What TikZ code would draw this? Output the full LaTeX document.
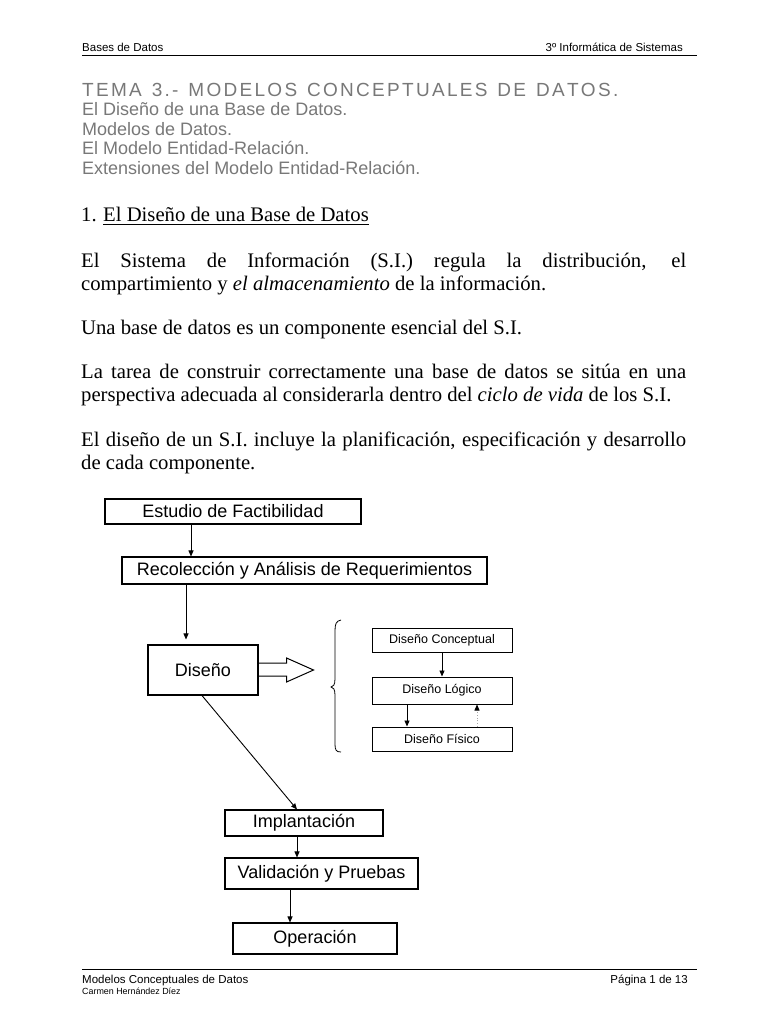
\documentclass[tikz,border=0pt]{standalone}
\usepackage{fontspec}
\setmainfont{Liberation Serif}
\newfontfamily\arial{Liberation Sans}
\usetikzlibrary{arrows.meta,calc}
\definecolor{tgray}{gray}{0.47}
\makeatletter
\def\trk#1{\trk@#1\relax}
\def\trk@#1{\ifx#1\relax\else#1\kern\trkamt\expandafter\trk@\fi}
\makeatother
\def\trkamt{2.3pt}
\tikzset{
  box/.style={draw, line width=1.1pt, inner sep=0pt, font=\arial\fontsize{18}{20}\selectfont},
  sbox/.style={draw, line width=1pt, inner sep=0pt, minimum width=140pt, font=\arial\fontsize{12.5}{14}\selectfont},
  arr/.style={-{Triangle[length=6pt,width=5pt]}, line width=0.9pt},
  body/.style={anchor=base west, inner sep=0pt, font=\fontsize{20.7}{23}\selectfont},
  sub/.style={anchor=base west, inner sep=0pt, text=tgray, font=\arial\fontsize{18}{20}\selectfont},
  hdr/.style={inner sep=0pt, font=\arial\fontsize{11.5}{13}\selectfont},
}
\begin{document}
\begin{tikzpicture}[x=1pt,y=-1pt]
\useasboundingbox[fill=white] (0,0) rectangle (768,1024);
% header
\node[hdr, anchor=base west] (h1) at (82,52) {Bases de Datos};
\node[hdr, anchor=base east] (h2) at (683,52) {3º Informática de Sistemas};
\draw[line width=1.2pt] (82,55.5) -- (697,55.5);
% title
\node[anchor=base west, inner sep=0pt, text=tgray, font=\arial\fontsize{19}{21}\selectfont] (tit) at (82,96.5) {\trk{TEMA~3.-~MODELOS~CONCEPTUALES~DE~DATOS.}};
\node[sub] (s1) at (82,115.5) {El Diseño de una Base de Datos.};
\node[sub] (s2) at (82,135.2) {Modelos de Datos.};
\node[sub] (s3) at (82,154.9) {El Modelo Entidad-Relación.};
\node[sub] (s4) at (82,174.6) {Extensiones del Modelo Entidad-Relación.};
% body
\node[body] (n1) at (81,222) {1.};
\node[body] (hd) at (103,222) {El Diseño de una Base de Datos};
\draw[line width=0.9pt] ($(hd.base west)+(0,2.5)$) -- ($(hd.base east)+(0,2.5)$);
\node[body] (p1a) at (81,267.5) {\makebox[605pt][s]{El Sistema de Información (S.I.) regula la distribución, el}};
\node[body] (p1b) at (81,290.5) {compartimiento y \textit{el almacenamiento} de la información.};
\node[body] (p2) at (81,334.5) {Una base de datos es un componente esencial del S.I.};
\node[body] (p3a) at (81,378.5) {\makebox[605pt][s]{La tarea de construir correctamente una base de datos se sitúa en una}};
\node[body] (p3b) at (81,401.5) {perspectiva adecuada al considerarla dentro del \textit{ciclo de vida} de los S.I.};
\node[body] (p4a) at (81,446.5) {\makebox[605pt][s]{El diseño de un S.I. incluye la planificación, especificación y desarrollo}};
\node[body] (p4b) at (81,469.5) {de cada componente.};
% diagram
\node[box, minimum width=256pt, minimum height=25pt] (est) at (233,511.5) {Estudio de Factibilidad};
\node[box, minimum width=365pt, minimum height=27pt] (rec) at (304.5,570.5) {Recolección y Análisis de Requerimientos};
\node[box, minimum width=110pt, minimum height=50pt] (dis) at (203,670) {Diseño};
\node[sbox, minimum height=24pt] (dc) at (442,640) {Diseño Conceptual};
\node[sbox, minimum height=27pt] (dl) at (442,690.5) {Diseño Lógico};
\node[sbox, minimum height=24pt] (df) at (442,739) {Diseño Físico};
\node[box, minimum width=158pt, minimum height=26pt] (imp) at (304,823) {Implantación};
\node[box, minimum width=193pt, minimum height=31pt] (val) at (321.5,873.5) {Validación y Pruebas};
\node[box, minimum width=164pt, minimum height=31pt] (op) at (315,938.5) {Operación};
% connectors
\draw[arr] (191,0 |- est.south) -- (191,0 |- rec.north);
\draw[arr, shorten >=5pt] (186,0 |- rec.south) -- (186,0 |- dis.north);
\draw[arr] (202,0 |- dis.south) -- (297,0 |- imp.north);
\draw[arr] (297,0 |- imp.south) -- (297,0 |- val.north);
\draw[arr] (290,0 |- val.south) -- (290,0 |- op.north);
\draw[arr] (dc.south) -- (dl.north);
\draw[arr] (407,0 |- dl.south) -- (407,0 |- df.north);
\draw[-{Triangle[length=6pt,width=5pt,color=black]}, draw=gray!70, line width=0.7pt, dotted] (477,0 |- df.north) -- (477,0 |- dl.south);
% block arrow
\draw[line width=1pt, line join=miter] ($(dis.east)+(0,-7)$) -- ($(dis.east)+(28,-7)$) -- ($(dis.east)+(28,-12)$) -- ($(dis.east)+(55,0)$) -- ($(dis.east)+(28,12)$) -- ($(dis.east)+(28,6)$) -- ($(dis.east)+(0,6)$);
% brace
\draw[line width=0.8pt] (341,620) .. controls (336,621) and (335,624) .. (335,631) -- (335,679) .. controls (335,685) and (333,687) .. (331,687) .. controls (333,687) and (335,689) .. (335,695) -- (335,744) .. controls (335,750) and (336,752) .. (341,752);
% footer
\draw[line width=1.5pt] (82,969.5) -- (697,969.5);
\node[hdr, anchor=base west] (f1) at (82,983) {Modelos Conceptuales de Datos};
\node[hdr, anchor=base east] (f2) at (688,983) {Página 1 de 13};
\node[inner sep=0pt, anchor=base west, font=\arial\fontsize{8.9}{10}\selectfont] (f3) at (82,994) {Carmen Hernández Díez};
\end{tikzpicture}
\end{document}
